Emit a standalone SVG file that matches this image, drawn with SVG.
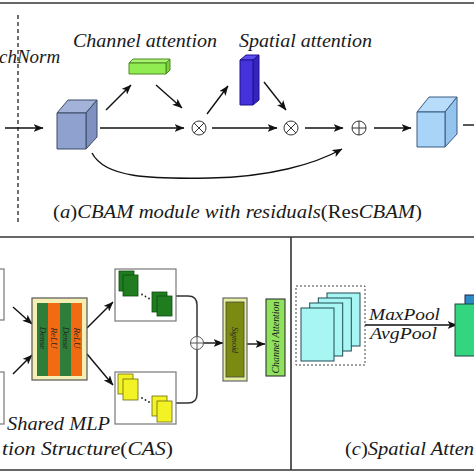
<svg xmlns="http://www.w3.org/2000/svg" width="474" height="474" viewBox="0 0 474 474">
<defs>
<style>
.t{font-family:"Liberation Serif","DejaVu Serif",serif;font-style:italic;fill:#1a1a1a}
.r{font-style:normal}
.ln{stroke:#111;stroke-width:1.4;fill:none}
.ar{stroke:#111;stroke-width:1.4;fill:none;marker-end:url(#ah)}
.box{fill:#fff;stroke:#777;stroke-width:1.2}
.op{fill:#fff;stroke:#333;stroke-width:1}
.panel{stroke:#333;stroke-width:1.6}
.sm{font-family:"Liberation Serif","DejaVu Serif",serif;font-style:italic;fill:#222;text-anchor:middle}
</style>
<marker id="ah" markerWidth="10" markerHeight="8" refX="9.5" refY="4" orient="auto" markerUnits="userSpaceOnUse">
<path d="M0,0 L10,4 L0,8 L2.5,4 z" fill="#111"/>
</marker>
</defs>
<rect width="474" height="474" fill="#fff"/>
<!-- panel frames -->
<g id="frames">
<line class="panel" x1="0" y1="3" x2="474" y2="3"/>
<line class="panel" x1="0" y1="237" x2="474" y2="237"/>
<line class="panel" x1="0" y1="470" x2="474" y2="470"/>
<line class="panel" x1="291" y1="237" x2="291" y2="470"/>
<line x1="18" y1="15" x2="18" y2="224" stroke="#222" stroke-width="1.3" stroke-dasharray="4,3"/>
</g>
<!-- connectors -->
<g id="connectors">
<line class="ar" x1="5" y1="128" x2="43" y2="128"/>
<line class="ar" x1="106" y1="110" x2="131" y2="85"/>
<line class="ar" x1="156" y1="85" x2="182" y2="108"/>
<line class="ar" x1="100" y1="128" x2="184" y2="128"/>
<line class="ar" x1="207" y1="114" x2="228" y2="86"/>
<line class="ar" x1="264" y1="82" x2="286" y2="110"/>
<line class="ar" x1="212" y1="128" x2="277" y2="128"/>
<line class="ar" x1="305" y1="128" x2="343" y2="128"/>
<line class="ar" x1="374" y1="128" x2="411" y2="128"/>
<line class="ln" x1="463" y1="125" x2="474" y2="125"/>
<path class="ar" d="M92,153 C105,178 150,179 210,178 C270,177 315,164 342,149"/>
<line class="ar" x1="13" y1="307" x2="32" y2="324"/>
<line class="ar" x1="13" y1="374" x2="32" y2="355"/>
<line class="ar" x1="87" y1="328" x2="113" y2="302"/>
<line class="ar" x1="87" y1="354" x2="113" y2="385"/>
<path d="M176,296 H188 Q197,296 197,305 V336.5" fill="none" stroke="#333" stroke-width="1.5"/>
<path d="M176,403 H188 Q197,403 197,394 V349.5" fill="none" stroke="#333" stroke-width="1.5"/>
<line class="ar" x1="204" y1="343" x2="223" y2="343"/>
<line class="ar" x1="247" y1="344" x2="265" y2="344"/>
<line class="ar" x1="365" y1="325" x2="457" y2="325"/>
</g>
<!-- top panel nodes -->
<g id="input-cube" stroke="#3d4a66" stroke-width="1" stroke-linejoin="round">
<polygon points="57,113 68,100 97,100 86,113" fill="#a3b2d8"/>
<polygon points="86,113 97,100 97,137 86,149" fill="#7f91c0"/>
<rect x="57" y="113" width="29" height="36" fill="#8fa2cf"/>
</g>
<g id="channel-att" stroke="#4d8a22" stroke-width="1" stroke-linejoin="round">
<polygon points="129,63 133,59 170,59 166,63" fill="#a8f470"/>
<polygon points="166,63 170,59 170,70 166,74" fill="#76d23c"/>
<rect x="129" y="63" width="37" height="11" fill="#90ec50"/>
</g>
<g id="spatial-att" stroke="#1f128a" stroke-width="1" stroke-linejoin="round">
<polygon points="240,60 246,55 259,55 253,60" fill="#5a4cf0"/>
<polygon points="253,60 259,55 259,100 253,105" fill="#3424c0"/>
<rect x="240" y="60" width="13" height="45" fill="#4433dd"/>
</g>
<g id="mul1"><circle class="op" cx="199" cy="128" r="7"/><path d="M194,123 L204,133 M204,123 L194,133" stroke="#333" stroke-width="1"/></g>
<g id="mul2"><circle class="op" cx="291" cy="128" r="7"/><path d="M286,123 L296,133 M296,123 L286,133" stroke="#333" stroke-width="1"/></g>
<g id="add1"><circle class="op" cx="359" cy="128" r="7"/><path d="M352,128 H366 M359,121 V135" stroke="#333" stroke-width="1"/></g>
<g id="output-cube" stroke="#3a5a80" stroke-width="1" stroke-linejoin="round">
<polygon points="417,112 429,97 457,97 445,112" fill="#b8ddfa"/>
<polygon points="445,112 457,97 457,134 445,147" fill="#94c4ee"/>
<rect x="417" y="112" width="28" height="35" fill="#a8d4f8"/>
</g>
<g id="labels-a">
<text class="t" x="-1" y="63" font-size="19">chNorm</text>
<text class="t" x="73" y="47" font-size="19" textLength="144" lengthAdjust="spacingAndGlyphs">Channel attention</text>
<text class="t" x="239" y="47" font-size="19" textLength="133" lengthAdjust="spacingAndGlyphs">Spatial attention</text>
<text class="t" x="53" y="218" font-size="19" textLength="369" lengthAdjust="spacingAndGlyphs"><tspan class="r">(</tspan>a<tspan class="r">)</tspan>CBAM module with residuals<tspan class="r">(Res</tspan>CBAM<tspan class="r">)</tspan></text>
</g>
<!-- bottom-left panel nodes -->
<g id="in-max"><rect class="box" x="-20" y="269" width="24" height="51"/></g>
<g id="in-avg"><rect class="box" x="-20" y="372" width="24" height="52"/></g>
<g id="shared-mlp">
<rect x="32" y="298" width="55" height="82" fill="#f6efb4" stroke="#555" stroke-width="1.2"/>
<rect x="37" y="303" width="11" height="73" fill="#2e7d3a"/>
<rect x="48" y="303" width="12" height="73" fill="#f26a12"/>
<rect x="60" y="303" width="11" height="73" fill="#2e7d3a"/>
<rect x="71" y="303" width="11" height="73" fill="#f26a12"/>
<text class="sm" font-size="9" transform="translate(42.5,338) rotate(90)" y="3">Dense</text>
<text class="sm" font-size="9" transform="translate(54,338) rotate(90)" y="3">ReLU</text>
<text class="sm" font-size="9" transform="translate(65.5,338) rotate(90)" y="3">Dense</text>
<text class="sm" font-size="9" transform="translate(76.5,338) rotate(90)" y="3">ReLU</text>
</g>
<g id="out-max">
<rect class="box" x="115" y="269" width="61" height="52"/>
<g fill="#1f7d1f" stroke="#0d4a0d" stroke-width="0.8">
<rect x="119" y="271" width="15" height="20"/>
<rect x="123" y="275" width="15" height="21"/>
<rect x="152" y="292" width="15" height="20"/>
<rect x="157" y="296" width="15" height="20"/>
</g>
<g fill="#222"><circle cx="142" cy="294.5" r="0.9"/><circle cx="145.5" cy="296.5" r="0.9"/><circle cx="149" cy="298.5" r="0.9"/></g>
</g>
<g id="out-avg">
<rect class="box" x="115" y="372" width="61" height="52"/>
<g fill="#f2f224" stroke="#6a6a10" stroke-width="0.8">
<rect x="118" y="374" width="15" height="20"/>
<rect x="123" y="379" width="15" height="21"/>
<rect x="152" y="396" width="15" height="20"/>
<rect x="157" y="401" width="15" height="21"/>
</g>
<g fill="#222"><circle cx="142" cy="398" r="0.9"/><circle cx="145.5" cy="400" r="0.9"/><circle cx="149" cy="402" r="0.9"/></g>
</g>
<g id="add2"><circle cx="197" cy="343" r="6.5" fill="#fff" stroke="#555" stroke-width="1"/><path d="M190.5,343 H203.5 M197,336.5 V349.5" stroke="#555" stroke-width="1"/></g>
<g id="sigmoid">
<rect x="223" y="298" width="24" height="83" fill="#e6efa0" stroke="#666" stroke-width="1.2"/>
<rect x="226" y="302" width="18" height="75" fill="#7b8b12" stroke="#444" stroke-width="0.8"/>
<text class="sm" font-size="8" transform="translate(235,340) rotate(90)" y="3">Sigmoid</text>
</g>
<g id="channel-attention">
<rect x="266" y="299" width="19" height="77" fill="#8ee25c" stroke="#333" stroke-width="1.1"/>
<text class="sm" font-size="10" transform="translate(275.5,337.5) rotate(-90)" y="3.5" textLength="72" lengthAdjust="spacingAndGlyphs">Channel Attention</text>
</g>
<g id="labels-b">
<text class="t" x="7" y="430" font-size="19" textLength="103" lengthAdjust="spacingAndGlyphs">Shared MLP</text>
<text class="t" x="2" y="455" font-size="19" textLength="171" lengthAdjust="spacingAndGlyphs">tion Structure<tspan class="r">(</tspan>CAS<tspan class="r">)</tspan></text>
</g>
<!-- bottom-right panel nodes -->
<g id="feature-stack">
<rect x="296" y="286" width="69" height="79" fill="none" stroke="#444" stroke-width="1" stroke-dasharray="2,2"/>
<g fill="#a8f6f4" stroke="#1f4a55" stroke-width="1">
<rect x="327" y="293" width="33" height="53"/>
<rect x="318.3" y="298" width="33" height="53"/>
<rect x="309.7" y="303" width="33" height="53"/>
<rect x="301" y="308" width="33" height="53"/>
</g>
</g>
<g id="pool-map">
<rect x="465" y="295" width="20" height="10" fill="#2b8bc6" stroke="#224" stroke-width="1"/>
<rect x="455" y="304" width="30" height="52" fill="#33d67f" stroke="#244" stroke-width="1"/>
</g>
<g id="labels-c">
<text class="t" x="369" y="320" font-size="17" textLength="71" lengthAdjust="spacingAndGlyphs">MaxPool</text>
<text class="t" x="370" y="339" font-size="17" textLength="67" lengthAdjust="spacingAndGlyphs">AvgPool</text>
<text class="t" x="345" y="455" font-size="19" textLength="129" lengthAdjust="spacingAndGlyphs"><tspan class="r">(</tspan>c<tspan class="r">)</tspan>Spatial Atten</text>
</g>
</svg>
